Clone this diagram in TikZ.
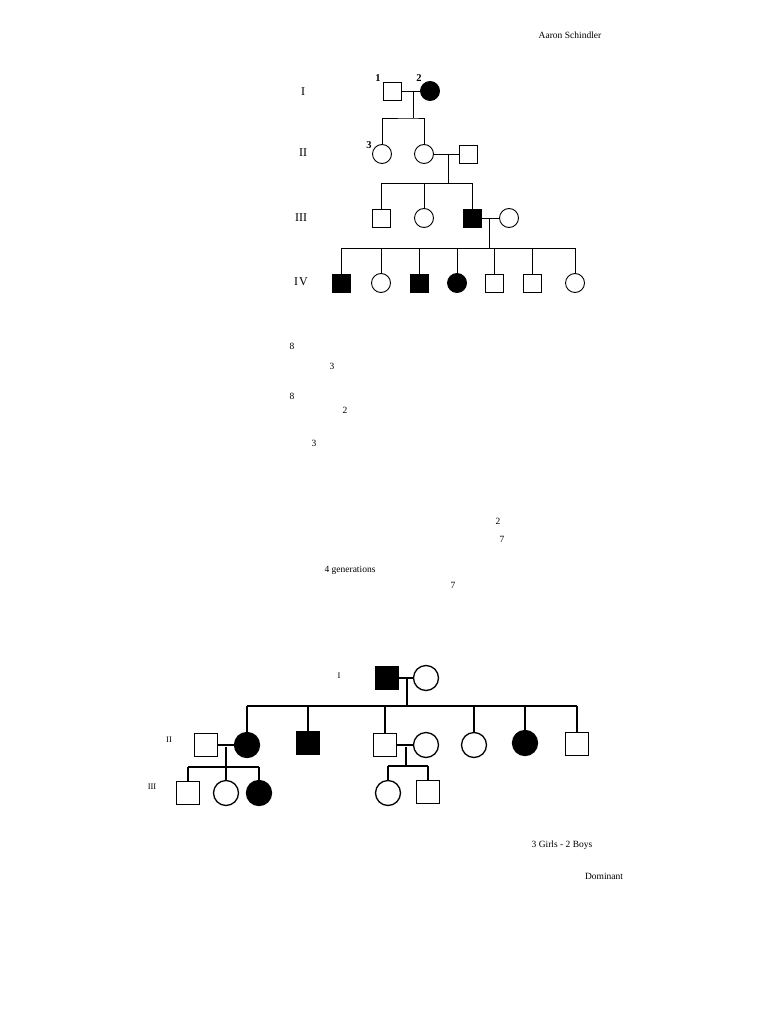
\documentclass[tikz,border=0pt]{standalone}
\usepackage{fontspec}
\setmainfont{Liberation Serif}
\usetikzlibrary{positioning}

\begin{document}
\begin{tikzpicture}[
  x=1pt, y=-1pt,
  male/.style={draw=black, rectangle, minimum size=18pt, inner sep=0pt, line width=0.9pt},
  female/.style={draw=black, circle, minimum size=19pt, inner sep=0pt, line width=0.9pt},
  big/.style={minimum size=23pt, line width=1.3pt},
  bigf/.style={minimum size=25pt, line width=1.3pt},
  sick/.style={fill=black},
  link/.style={draw=black, line width=0.9pt},
  thicklink/.style={draw=black, line width=1.3pt},
  gen/.style={font=\fontsize{12}{12}\selectfont, inner sep=0pt},
  smallgen/.style={font=\fontsize{8.5}{9}\selectfont, inner sep=0pt},
  num/.style={font=\fontsize{10.5}{10}\selectfont\bfseries, inner sep=0pt},
  note/.style={font=\fontsize{9.5}{11}\selectfont, inner sep=0pt}
]
\useasboundingbox (0,0) rectangle (768,1024);

% header
\node[note] (name) at (570,35) {Aaron Schindler};

% first pedigree
\node[gen] (g1) at (303,92) {I};
\node[gen] (g2) at (303,153) {II};
\node[gen] (g3) at (301,218) {III};
\node[gen] (g4) at (301,282) {I\kern1ptV};

\node[male] (a1) at (392,91) {};
\node[female, sick] (a2) at (430,91) {};
\node[num] (n1) at (378,78) {1};
\node[num] (n2) at (419,78) {2};
\coordinate (m1) at (413,91);
\coordinate (s1) at (413,118);

\node[female] (b1) at (382,154) {};
\node[female] (b2) at (424,154) {};
\node[male] (b3) at (468,154) {};
\node[num] (n3) at (369,145) {3};
\coordinate (m2) at (448,154);
\coordinate (s2) at (448,183);

\node[male] (c1) at (381,218) {};
\node[female] (c2) at (424,218) {};
\node[male, sick] (c3) at (472,218) {};
\node[female] (c4) at (509,218) {};
\coordinate (m3) at (489,218);
\coordinate (s3) at (489,248);

\node[male, sick] (d1) at (341,283) {};
\node[female] (d2) at (381,283) {};
\node[male, sick] (d3) at (419,283) {};
\node[female, sick] (d4) at (457,283) {};
\node[male] (d5) at (494,283) {};
\node[male] (d6) at (532,283) {};
\node[female] (d7) at (575,283) {};

\draw[link] (a1) -- (a2);
\draw[link] (m1) -- (s1);
\draw[link] (b1) |- (s1) -| (b2);
\draw[link] (b2) -- (b3);
\draw[link] (m2) -- (s2);
\draw[link] (c1 |- s2) -- (c3 |- s2);
\foreach \k in {c1,c2,c3} \draw[link] (\k) -- (\k |- s2);
\draw[link] (c3) -- (c4);
\draw[link] (m3) -- (s3);
\draw[link] (d1 |- s3) -- (d7 |- s3);
\foreach \k in {d1,d2,d3,d4,d5,d6,d7} \draw[link] (\k) -- (\k |- s3);

% answers
\node[note] (t1) at (292,346) {8};
\node[note] (t2) at (332,366) {3};
\node[note] (t3) at (292,396) {8};
\node[note] (t4) at (345,410) {2};
\node[note] (t5) at (314,443) {3};
\node[note] (t6) at (498,521) {2};
\node[note] (t7) at (502,539) {7};
\node[note] (t8) at (350,570) {4 generations};
\node[note] (t9) at (453,585) {7};

% second pedigree
\node[smallgen] (h1) at (339,676) {I};
\node[smallgen] (h2) at (169,740) {II};
\node[smallgen] (h3) at (152,787) {III};

\node[male, big, sick] (p1) at (387,678) {};
\node[female, bigf] (p2) at (426,678) {};
\coordinate (q1) at (407,678);
\coordinate (r1) at (407,706);

\node[male, big] (u0) at (206,745) {};
\node[female, bigf, sick] (u1) at (247,745) {};
\node[male, big, sick] (u2) at (308,743) {};
\node[male, big] (u3) at (385,745) {};
\node[female, bigf] (u7) at (426,745) {};
\node[female, bigf] (u4) at (474,745) {};
\node[female, bigf, sick] (u5) at (525,743) {};
\node[male, big] (u6) at (577,744) {};
\coordinate (q2) at (226,747);
\coordinate (r2) at (226,767);
\coordinate (q3) at (406,747);
\coordinate (r3) at (406,766);

\node[male, big] (w1) at (188,793) {};
\node[female, bigf] (w2) at (226,793) {};
\node[female, bigf, sick] (w3) at (259,793) {};
\node[female, bigf] (w4) at (388,793) {};
\node[male, big] (w5) at (428,792) {};

\draw[thicklink] (p1) -- (p2);
\draw[thicklink] (q1) -- (r1);
\draw[thicklink] (u1 |- r1) -- (u6 |- r1);
\foreach \k in {u1,u2,u3,u4,u5,u6} \draw[thicklink] (\k) -- (\k |- r1);
\draw[thicklink] (u0) -- (u1);
\draw[thicklink] (q2) -- (r2);
\draw[thicklink] (w1 |- r2) -- (w3 |- r2);
\foreach \k in {w1,w2,w3} \draw[thicklink] (\k) -- (\k |- r2);
\draw[thicklink] (u3) -- (u7);
\draw[thicklink] (q3) -- (r3);
\draw[thicklink] (w4 |- r3) -- (w5 |- r3);
\foreach \k in {w4,w5} \draw[thicklink] (\k) -- (\k |- r3);

% notes
\node[note] (girls) at (562,845) {3 Girls - 2 Boys};
\node[note] (dom) at (604,876) {Dominant};
\end{tikzpicture}
\end{document}
